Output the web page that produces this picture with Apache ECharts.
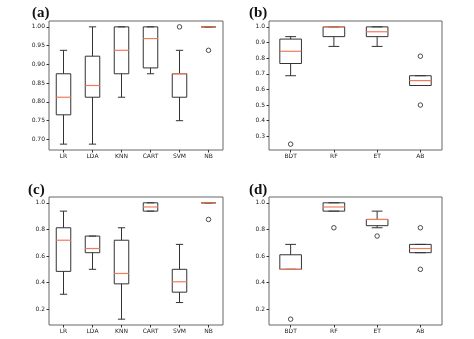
<!DOCTYPE html>
<html>
<head>
<meta charset="utf-8">
<script src="https://cdn.jsdelivr.net/npm/echarts@6/dist/echarts.min.js"></script>
<style>
  html, body { margin: 0; padding: 0; background: #fff; }
  #chart { width: 474px; height: 339px; }
</style>
</head>
<body>
<div id="chart"></div>
<script>
// categories
const catsLeft = ["LR", "LDA", "KNN", "CART", "SVM", "NB"];
const catsRight = ["BDT", "RF", "ET", "AB"];

// [low whisker, q1, median, q3, high whisker]
const boxA = [
  [0.6875, 0.765625, 0.8125, 0.875, 0.9375],
  [0.6875, 0.8125, 0.84375, 0.921875, 1.0],
  [0.8125, 0.875, 0.9375, 1.0, 1.0],
  [0.875, 0.890625, 0.96875, 1.0, 1.0],
  [0.75, 0.8125, 0.875, 0.875, 0.9375],
  [1.0, 1.0, 1.0, 1.0, 1.0]
];
const outA = [[4, 1.0], [5, 0.9375]];

const boxB = [
  [0.6875, 0.765625, 0.84375, 0.921875, 0.9375],
  [0.875, 0.9375, 1.0, 1.0, 1.0],
  [0.875, 0.9375, 0.96875, 1.0, 1.0],
  [0.625, 0.625, 0.65625, 0.6875, 0.6875]
];
const outB = [[0, 0.25], [3, 0.8125], [3, 0.5]];

const boxC = [
  [0.3125, 0.484375, 0.71875, 0.8125, 0.9375],
  [0.5, 0.625, 0.65625, 0.75, 0.75],
  [0.125, 0.390625, 0.46875, 0.71875, 0.8125],
  [0.9375, 0.9375, 0.96875, 1.0, 1.0],
  [0.25, 0.328125, 0.40625, 0.5, 0.6875],
  [1.0, 1.0, 1.0, 1.0, 1.0]
];
const outC = [[5, 0.875]];

const boxD = [
  [0.5, 0.5, 0.5, 0.609375, 0.6875],
  [0.9375, 0.9375, 0.96875, 1.0, 1.0],
  [0.8125, 0.828125, 0.875, 0.875, 0.9375],
  [0.625, 0.625, 0.65625, 0.6875, 0.6875]
];
const outD = [[0, 0.125], [1, 0.8125], [2, 0.75], [3, 0.8125], [3, 0.5]];

// tick values
const ticksA = [0.70, 0.75, 0.80, 0.85, 0.90, 0.95, 1.00];
const ticksB = [0.3, 0.4, 0.5, 0.6, 0.7, 0.8, 0.9, 1.0];
const ticksCD = [0.2, 0.4, 0.6, 0.8, 1.0];
const panelLabels = ["(a)", "(b)", "(c)", "(d)"];

const boxColor = "#333";
const medianColor = "#f07c5c";
const frameColor = "#666";

const grids = [
  { left: 49, top: 21, width: 174, height: 129 },
  { left: 269, top: 21, width: 173, height: 129 },
  { left: 49, top: 197, width: 174, height: 128 },
  { left: 269, top: 197, width: 173, height: 128 }
];

const yRanges = [
  [0.671875, 1.015625],
  [0.2125, 1.0375],
  [0.08125, 1.04375],
  [0.08125, 1.04375]
];
const yTicks = [ticksA, ticksB, ticksCD, ticksCD];
const yDigits = [2, 1, 1, 1];
const xCats = [catsLeft, catsRight, catsLeft, catsRight];
const boxes = [boxA, boxB, boxC, boxD];
const outliers = [outA, outB, outC, outD];

const renderBox = (params, api) => {
  const x = api.value(0);
  const pLow = api.coord([x, api.value(1)]);
  const pQ1 = api.coord([x, api.value(2)]);
  const pMed = api.coord([x, api.value(3)]);
  const pQ3 = api.coord([x, api.value(4)]);
  const pHigh = api.coord([x, api.value(5)]);
  const bw = api.size([1, 0])[0] * 0.5;
  const cw = bw * 0.5;
  const cx = pMed[0];
  const lineStyle = { stroke: boxColor, lineWidth: 1, fill: null };
  return {
    type: "group",
    children: [
      { type: "line", shape: { x1: cx, y1: pQ3[1], x2: cx, y2: pHigh[1] }, style: lineStyle },
      { type: "line", shape: { x1: cx, y1: pQ1[1], x2: cx, y2: pLow[1] }, style: lineStyle },
      { type: "line", shape: { x1: cx - cw / 2, y1: pHigh[1], x2: cx + cw / 2, y2: pHigh[1] }, style: lineStyle },
      { type: "line", shape: { x1: cx - cw / 2, y1: pLow[1], x2: cx + cw / 2, y2: pLow[1] }, style: lineStyle },
      { type: "rect", shape: { x: cx - bw / 2, y: pQ3[1], width: bw, height: pQ1[1] - pQ3[1] }, style: lineStyle },
      { type: "line", shape: { x1: cx - bw / 2, y1: pMed[1], x2: cx + bw / 2, y2: pMed[1] }, style: { stroke: medianColor, lineWidth: 1.2 } }
    ]
  };
};

const labelFont = { fontFamily: "DejaVu Sans", fontSize: 6, color: "#222" };

const option = {
  animation: false,
  backgroundColor: "#fff",
  title: panelLabels.map((t, i) => ({
    text: t,
    left: [32, 249, 28, 249][i],
    top: [6, 6, 183, 183][i],
    padding: 0,
    textStyle: { fontFamily: "Liberation Serif", fontWeight: "bold", fontSize: 15, color: "#111" }
  })),
  grid: grids.map((g) => ({ ...g, show: true, borderColor: frameColor, borderWidth: 1, backgroundColor: "transparent" })),
  xAxis: xCats.map((cats, i) => ({
    type: "category",
    gridIndex: i,
    data: cats,
    boundaryGap: true,
    axisLine: { show: false },
    axisTick: { show: true, alignWithLabel: true, length: 2.5, lineStyle: { color: "#333" } },
    axisLabel: { ...labelFont, margin: 3.5, interval: 0 },
    splitLine: { show: false }
  })),
  yAxis: yRanges.map((r, i) => ({
    type: "value",
    gridIndex: i,
    min: r[0],
    max: r[1],
    axisLine: { show: false },
    axisTick: { show: true, length: 2.5, customValues: yTicks[i], lineStyle: { color: "#333" } },
    axisLabel: {
      ...labelFont,
      margin: 4,
      customValues: yTicks[i],
      formatter: (v) => v.toFixed(yDigits[i])
    },
    splitLine: { show: false }
  })),
  series: [
    ...boxes.map((b, i) => ({
      type: "custom",
      xAxisIndex: i,
      yAxisIndex: i,
      renderItem: renderBox,
      encode: { x: 0, y: [1, 2, 3, 4, 5] },
      data: b.map((v, k) => [k, ...v]),
      z: 2
    })),
    ...outliers.map((o, i) => ({
      type: "scatter",
      xAxisIndex: i,
      yAxisIndex: i,
      symbol: "circle",
      symbolSize: 4.5,
      itemStyle: { color: "#fff", borderColor: "#222", borderWidth: 1 },
      data: o,
      z: 3
    }))
  ]
};

const chart = echarts.init(document.getElementById("chart"));
chart.setOption(option);
</script>
</body>
</html>
